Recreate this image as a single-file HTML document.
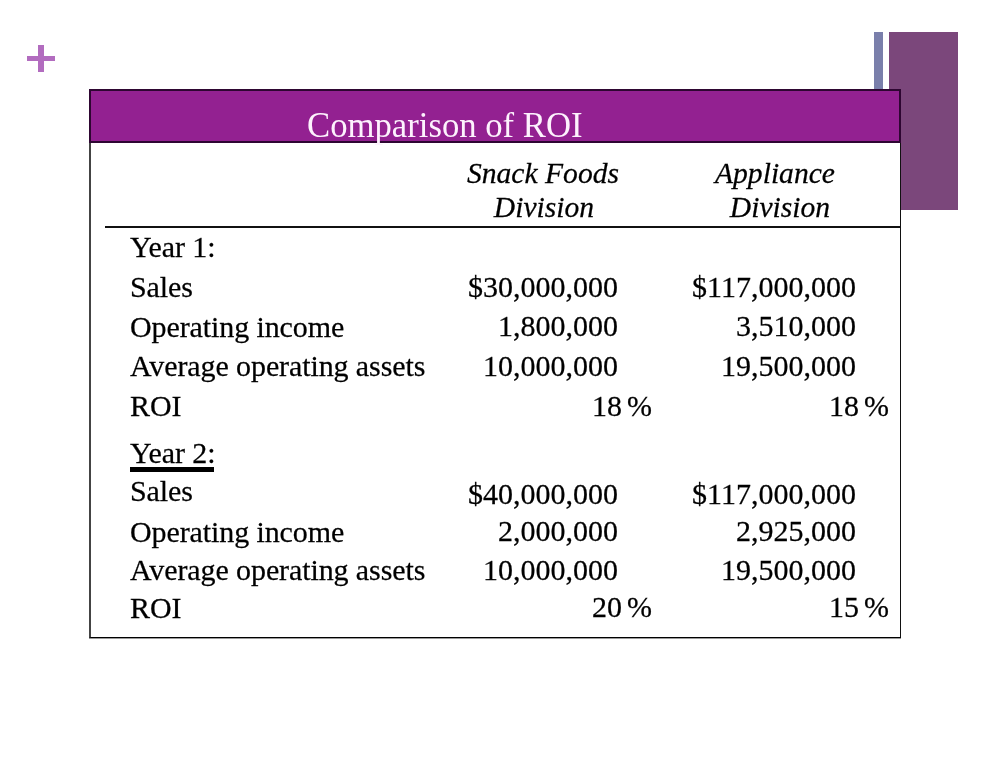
<!DOCTYPE html>
<html><head><meta charset="utf-8">
<style>
html,body{margin:0;padding:0;background:#fff;}
body{width:990px;height:765px;position:relative;overflow:hidden;font-family:"Liberation Serif",serif;color:#000;}
.a{position:absolute;white-space:pre;line-height:1;will-change:transform;transform:scaleY(1.01);transform-origin:0 25px;}
.plusv{position:absolute;left:38px;top:45px;width:6px;height:27px;background:#b26cbf;}
.plush{position:absolute;left:27px;top:56px;width:28px;height:5px;background:#b26cbf;}
.bluebar{position:absolute;left:874px;top:32px;width:9px;height:60px;background:#7a7fab;}
.prect{position:absolute;left:889px;top:32px;width:69px;height:177.5px;background:#7b477b;}
.body{position:absolute;left:89px;top:142px;width:809px;height:495px;background:#fff;border-left:2px solid #444;border-right:1px solid #111;border-bottom:1px solid #000;box-shadow:0 1px 0 #9a9a9a;}
.head{position:absolute;left:89px;top:89px;width:808px;height:50px;background:#932191;border:2px solid #2e0632;}
.rule{position:absolute;left:105px;top:226px;width:795px;height:1.5px;background:#111;}
.t{font-size:34.7px;color:#fdf2fd;}
.f{font-size:30px;-webkit-text-stroke:0.25px #000;}
.lb{letter-spacing:-0.1px;}
.i{font-style:italic;font-size:29.6px;}
.r{text-align:right;}
.c{text-align:center;}
.ul{position:absolute;left:130px;top:467px;width:84px;height:4.5px;background:#000;}
</style></head><body>
<div class="plusv"></div><div class="plush"></div>
<div class="bluebar"></div><div class="prect"></div>
<div class="body"></div>
<div class="head"></div>
<div class="rule"></div>
<div class="a t" style="left:307px;top:109px">Comparison of ROI</div>

<div class="a f i c" style="left:443px;width:200px;top:159px">Snack Foods</div>
<div class="a f i c" style="left:444px;width:200px;top:193px">Division</div>
<div class="a f i c" style="left:675px;width:200px;top:159px">Appliance</div>
<div class="a f i c" style="left:680px;width:200px;top:193px">Division</div>

<div class="a f lb" style="left:130px;top:232px">Year 1:</div>
<div class="a f lb" style="left:130px;top:272px">Sales</div>
<div class="a f lb" style="left:130px;top:312px">Operating income</div>
<div class="a f lb" style="left:130px;top:351px">Average operating assets</div>
<div class="a f lb" style="left:130px;top:391px">ROI</div>

<div class="a f r" style="left:418px;width:200px;top:272px">$30,000,000</div>
<div class="a f r" style="left:418px;width:200px;top:311px">1,800,000</div>
<div class="a f r" style="left:418px;width:200px;top:351px">10,000,000</div>
<div class="a f r" style="left:422px;width:200px;top:391px">18</div>
<div class="a f r" style="left:452px;width:200px;top:391px">%</div>

<div class="a f r" style="left:656px;width:200px;top:272px">$117,000,000</div>
<div class="a f r" style="left:656px;width:200px;top:311px">3,510,000</div>
<div class="a f r" style="left:656px;width:200px;top:351px">19,500,000</div>
<div class="a f r" style="left:659px;width:200px;top:391px">18</div>
<div class="a f r" style="left:689px;width:200px;top:391px">%</div>

<div class="a f lb" style="left:130px;top:438px">Year 2:</div>
<div class="ul"></div>
<div class="a f lb" style="left:130px;top:476px">Sales</div>
<div class="a f lb" style="left:130px;top:517px">Operating income</div>
<div class="a f lb" style="left:130px;top:555px">Average operating assets</div>
<div class="a f lb" style="left:130px;top:593px">ROI</div>

<div class="a f r" style="left:418px;width:200px;top:479px">$40,000,000</div>
<div class="a f r" style="left:418px;width:200px;top:516px">2,000,000</div>
<div class="a f r" style="left:418px;width:200px;top:555px">10,000,000</div>
<div class="a f r" style="left:422px;width:200px;top:592px">20</div>
<div class="a f r" style="left:452px;width:200px;top:592px">%</div>

<div class="a f r" style="left:656px;width:200px;top:479px">$117,000,000</div>
<div class="a f r" style="left:656px;width:200px;top:516px">2,925,000</div>
<div class="a f r" style="left:656px;width:200px;top:555px">19,500,000</div>
<div class="a f r" style="left:659px;width:200px;top:592px">15</div>
<div class="a f r" style="left:689px;width:200px;top:592px">%</div>
</body></html>
